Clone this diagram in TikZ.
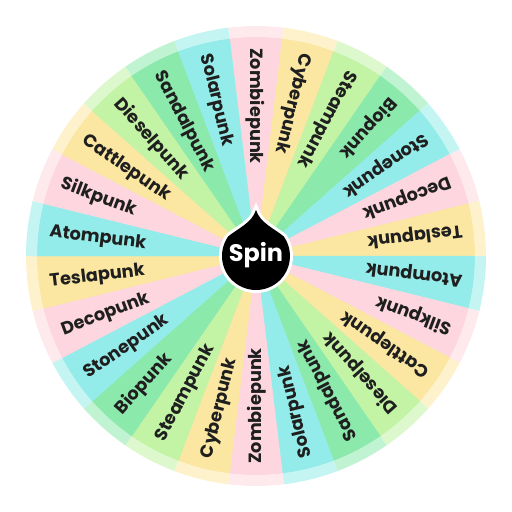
\documentclass[tikz,border=0pt]{standalone}
\usepackage{fontspec}
\setmainfont{Poppins}
\usepackage{tikz}
\usetikzlibrary{arrows}

\definecolor{rose}{HTML}{FDD6DF}
\definecolor{jaune}{HTML}{FBE7A1}
\definecolor{vertclair}{HTML}{C3F3A5}
\definecolor{vert}{HTML}{8CE9AC}
\definecolor{turquoise}{HTML}{93ECE9}

\begin{document}
\begin{tikzpicture}[x=0.025cm,y=0.025cm,
    etiquette/.style={anchor=west, text height=8.2pt, text depth=0pt,
      font=\fontsize{12.6}{15}\selectfont\bfseries, text=black!88}]
      \tikzstyle{every node} = [inner sep = 0pt];
      \useasboundingbox (-256,-256) rectangle (256,256);
      \begin{scope}
        \foreach \tour in {0,1}{
          \foreach \nom/\col [count=\k from 0] in {Zombiepunk/rose, Cyberpunk/jaune,
              Steampunk/vertclair, Biopunk/vert, Stonepunk/turquoise, Decopunk/rose,
              Teslapunk/jaune, Atompunk/turquoise, Silkpunk/rose, Cattlepunk/jaune,
              Dieselpunk/vertclair, Sandalpunk/vert, Solarpunk/turquoise}{
            \pgfmathsetmacro{\ang}{90-(\k+13*\tour)*360/26}
            \pgfmathsetmacro{\debut}{\ang-180/26}
            \pgfmathsetmacro{\fin}{\ang+180/26}
            \filldraw[\col, line width=0.3pt]
            (0,0) -- (\debut:219) arc[start angle=\debut, end angle=\fin, radius=219] -- cycle;
            \fill[\col!55!white]
            (\debut:219) arc[start angle=\debut, end angle=\fin, radius=219]
            -- (\fin:230) arc[start angle=\fin, end angle=\debut, radius=230] -- cycle;
            \node[etiquette, rotate=\ang+180] (\nom\tour) at (\ang:208) {\nom};
          }
        }
      \end{scope}
      % pointeur central
      \fill[black, preaction={draw=white, line width=4.3pt}]
      (0,46) .. controls (-4,33) and (-19,27) .. (145:34)
      arc[start angle=145, end angle=395, radius=34]
      .. controls (19,27) and (4,33) .. (0,46) -- cycle;
      \node[font=\fontsize{17}{20}\selectfont\bfseries, text=white] (spin) at (0,1) {Spin};
    \end{tikzpicture}
\end{document}
